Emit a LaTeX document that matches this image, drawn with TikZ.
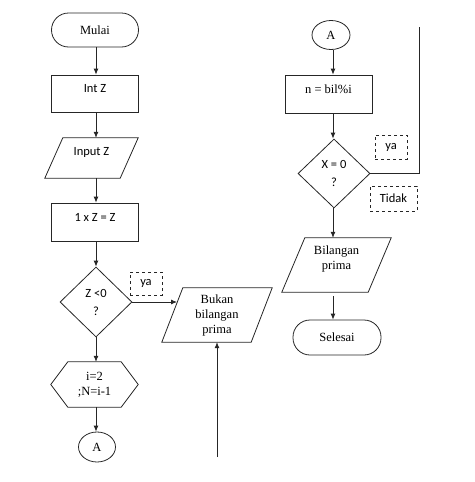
\documentclass[tikz,border=0pt]{standalone}
\usepackage{fontspec}
\setmainfont{Liberation Serif}
\newfontfamily\calibfont{Carlito}
\usetikzlibrary{shapes.geometric,arrows.meta}
\tikzset{
  serif/.style={font=\fontsize{12.5}{15}\selectfont},
  sansf/.style={font=\calibfont\fontsize{12.5}{15}\selectfont},
  base/.style={draw=black!85, line width=0.8pt, inner sep=0pt, serif},
  term/.style={base, rectangle, rounded corners=17pt, minimum width=87pt, minimum height=34pt},
  proc/.style={base, rectangle, minimum width=87pt, minimum height=37pt},
  ghost/.style={inner sep=0pt, serif, align=center},
  dec/.style={base, diamond, sansf, minimum width=72pt, minimum height=70pt, align=center},
  conn/.style={base, ellipse, minimum width=37pt, minimum height=30pt},
  tag/.style={draw=black!85, dashed, line width=0.8pt, inner sep=0pt, sansf},
  ln/.style={draw=black!85, line width=0.8pt},
  arr/.style={ln, -{Latex[length=6pt,width=5pt]}},
}
\begin{document}
\begin{tikzpicture}[x=1pt,y=-1pt]
\useasboundingbox (0,0) rectangle (474,482);
\coordinate (lc) at (96,0);
\coordinate (rc) at (333,0);
% left column
\node[term] (mulai) at (95,30) {Mulai};
\node[proc, label={[sansf,yshift=5pt]center:Int Z}] (intz) at (95,93.5) {};
\node[ghost, minimum width=93pt, minimum height=40pt, label={[sansf,yshift=6pt]center:Input Z}] (inp) at (91.5,158) {};
\draw[ln] (inp.south west) -- ([xshift=18pt]inp.north west) -- (inp.north east) -- ([xshift=-18pt]inp.south east) -- cycle;
\node[proc, minimum height=38pt, label={[sansf,yshift=5pt]center:1 x Z = Z}] (zz) at (95,222) {};
\node[dec] (z0) at (96,302) {Z <0\\[3pt]?};
\node[tag, minimum width=32pt, minimum height=23pt] (ya1) at (146,283.5) {ya};
\node[ghost, minimum width=110pt, minimum height=54pt] (bukan) at (217,315) {Bukan\\bilangan\\prima};
\draw[ln] (bukan.south west) -- ([xshift=21pt]bukan.north west) -- (bukan.north east) -- ([xshift=-21pt]bukan.south east) -- cycle;
\coordinate (bkin) at (177,302);
\coordinate (bot) at (217,457);
\node[ghost, minimum width=87pt, minimum height=45pt] (hex) at (94.5,384.5) {i=2\\;N=i-1};
\draw[ln] (hex.west) -- ([xshift=17pt]hex.north west) -- ([xshift=-17pt]hex.north east) -- (hex.east) -- ([xshift=-17pt]hex.south east) -- ([xshift=17pt]hex.south west) -- cycle;
\node[conn] (a1) at (97,447) {A};
% right column
\node[conn, minimum width=38pt, minimum height=29pt] (a2) at (331,35) {A};
\node[proc, minimum height=38pt, label={[serif,yshift=5pt]center:n = bil\%i}] (nb) at (328.5,94) {};
\node[dec, minimum height=69pt] (x0) at (334,173.5) {X = 0\\[3pt]?};
\node[tag, minimum width=32pt, minimum height=24pt] (ya2) at (391,147) {ya};
\node[tag, minimum width=47pt, minimum height=25pt] (tidak) at (393.5,198.5) {Tidak};
\coordinate (top) at (419,27);
\node[ghost, minimum width=109pt, minimum height=54pt, label={[serif,align=center,yshift=6pt]center:Bilangan\\prima}] (bil) at (336.5,265) {};
\draw[ln] (bil.south west) -- ([xshift=23pt]bil.north west) -- (bil.north east) -- ([xshift=-23pt]bil.south east) -- cycle;
\node[term, minimum width=88pt, minimum height=35pt] (sel) at (337,337.5) {Selesai};
% connectors left
\draw[arr] (lc |- mulai.south) -- (lc |- intz.north);
\draw[arr] (lc |- intz.south) -- (lc |- inp.north);
\draw[arr] (lc |- inp.south) -- (lc |- zz.north);
\draw[arr] (lc |- zz.south) -- (z0.north);
\draw[arr] (z0.east) -- (bkin);
\draw[arr] (z0.south) -- (lc |- hex.north);
\draw[arr] (lc |- hex.south) -- (lc |- a1.north);
\draw[arr] (bot) -- (bukan.south);
% connectors right
\draw[arr] (rc |- a2.south) -- (rc |- nb.north);
\draw[arr] (rc |- nb.south) -- (rc |- x0.north);
\draw[arr] (rc |- x0.south) -- (rc |- bil.north);
\draw[arr] ([yshift=-4pt]rc |- bil.south) -- (rc |- sel.north);
\draw[ln] (x0.east) -| (top);
\end{tikzpicture}
\end{document}
